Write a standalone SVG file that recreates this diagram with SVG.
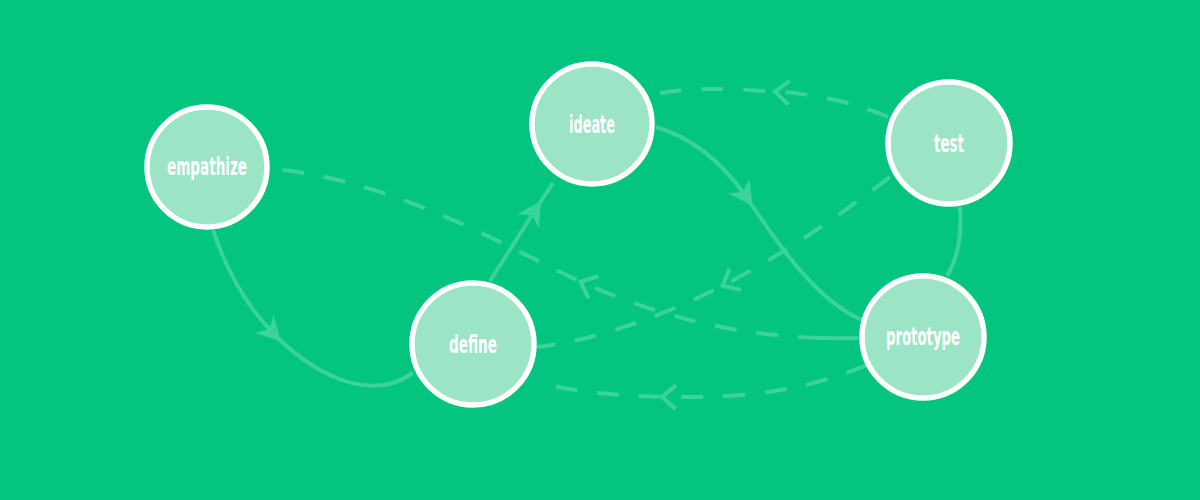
<svg xmlns="http://www.w3.org/2000/svg" width="1200" height="500" viewBox="0 0 1200 500">
  <style>
    .bg { fill: #03C57F; }
    .node circle { fill: #9BE4C6; stroke: #FFFFFF; stroke-width: 5.5; }
    .node text { font-family: "Liberation Sans Narrow", "DejaVu Sans Condensed", "Liberation Sans", sans-serif; font-weight: bold; font-size: 25px; fill: #FFFFFF; text-anchor: middle; }
    .edge { fill: none; stroke: #3AD49A; stroke-width: 4; stroke-linecap: butt; }
    .solid { marker-mid: url(#fillArrow); }
    .dashed { stroke-dasharray: 22 20; marker-mid: url(#openArrow); }
  </style>
  <defs>
    <marker id="fillArrow" markerUnits="userSpaceOnUse" viewBox="-16 -16 32 32" markerWidth="32" markerHeight="32" refX="0" refY="0" orient="auto">
      <path d="M13,0 L-11,-13 L-4,0 L-11,13 Z" fill="#3AD49A" stroke="none"/>
    </marker>
    <marker id="openArrow" markerUnits="userSpaceOnUse" viewBox="-16 -16 32 32" markerWidth="32" markerHeight="32" refX="0" refY="0" orient="auto">
      <path d="M-8,-12 L6,0 L-8,12" fill="none" stroke="#3AD49A" stroke-width="4" stroke-dasharray="none" stroke-linejoin="miter"/>
    </marker>
  </defs>
  <rect class="bg" x="0" y="0" width="1200" height="500"/>

  <g id="connectors">
    <path id="e-empathize-define" class="edge solid" d="M213,230 C228,275 248,307 272,332 C296,357 360,410 413,373"/>
    <path id="e-define-ideate" class="edge solid" d="M490,281 L534,212 L553,183"/>
    <path id="e-ideate-prototype" class="edge solid" d="M656,127 C690,137 720,160 745,195 C775,240 815,300 862,320"/>
    <path id="e-test-prototype" class="edge" d="M960,207 C962,235 958,258 947,276"/>
    <path id="e-prototype-empathize" class="edge dashed" style="stroke-dasharray: 60 20 22 20 22 20 22 20 22 20 22 20 22 20 22 20 22 20 22 20 22 20 22 20 22 20 22 20 22 20" d="M858,338 C780,340 690,330 586,284 C520,255 400,180 272,169"/>
    <path id="e-test-define" class="edge dashed" d="M890,177 C840,215 790,250 728,283 C670,313 600,340 537,347"/>
    <path id="e-test-ideate" class="edge dashed" d="M888,117 C855,103 820,95 781,92 C730,89 690,86 652,95"/>
    <path id="e-prototype-define" class="edge dashed" d="M867,365 C800,393 740,398 668,397 C620,396 575,392 540,383"/>
  </g>

  <g id="node-empathize" class="node">
    <circle cx="207" cy="167" r="60"/>
    <text x="207" y="175" textLength="80" lengthAdjust="spacingAndGlyphs">empathize</text>
  </g>
  <g id="node-define" class="node">
    <circle cx="473" cy="344" r="61"/>
    <text x="473" y="353" textLength="48" lengthAdjust="spacingAndGlyphs">define</text>
  </g>
  <g id="node-ideate" class="node">
    <circle cx="592" cy="124" r="60"/>
    <text x="592" y="133" textLength="46" lengthAdjust="spacingAndGlyphs">ideate</text>
  </g>
  <g id="node-test" class="node">
    <circle cx="949" cy="143" r="61"/>
    <text x="949" y="152" textLength="30" lengthAdjust="spacingAndGlyphs">test</text>
  </g>
  <g id="node-prototype" class="node">
    <circle cx="923" cy="337" r="61"/>
    <text x="923" y="345" textLength="74" lengthAdjust="spacingAndGlyphs">prototype</text>
  </g>
</svg>
